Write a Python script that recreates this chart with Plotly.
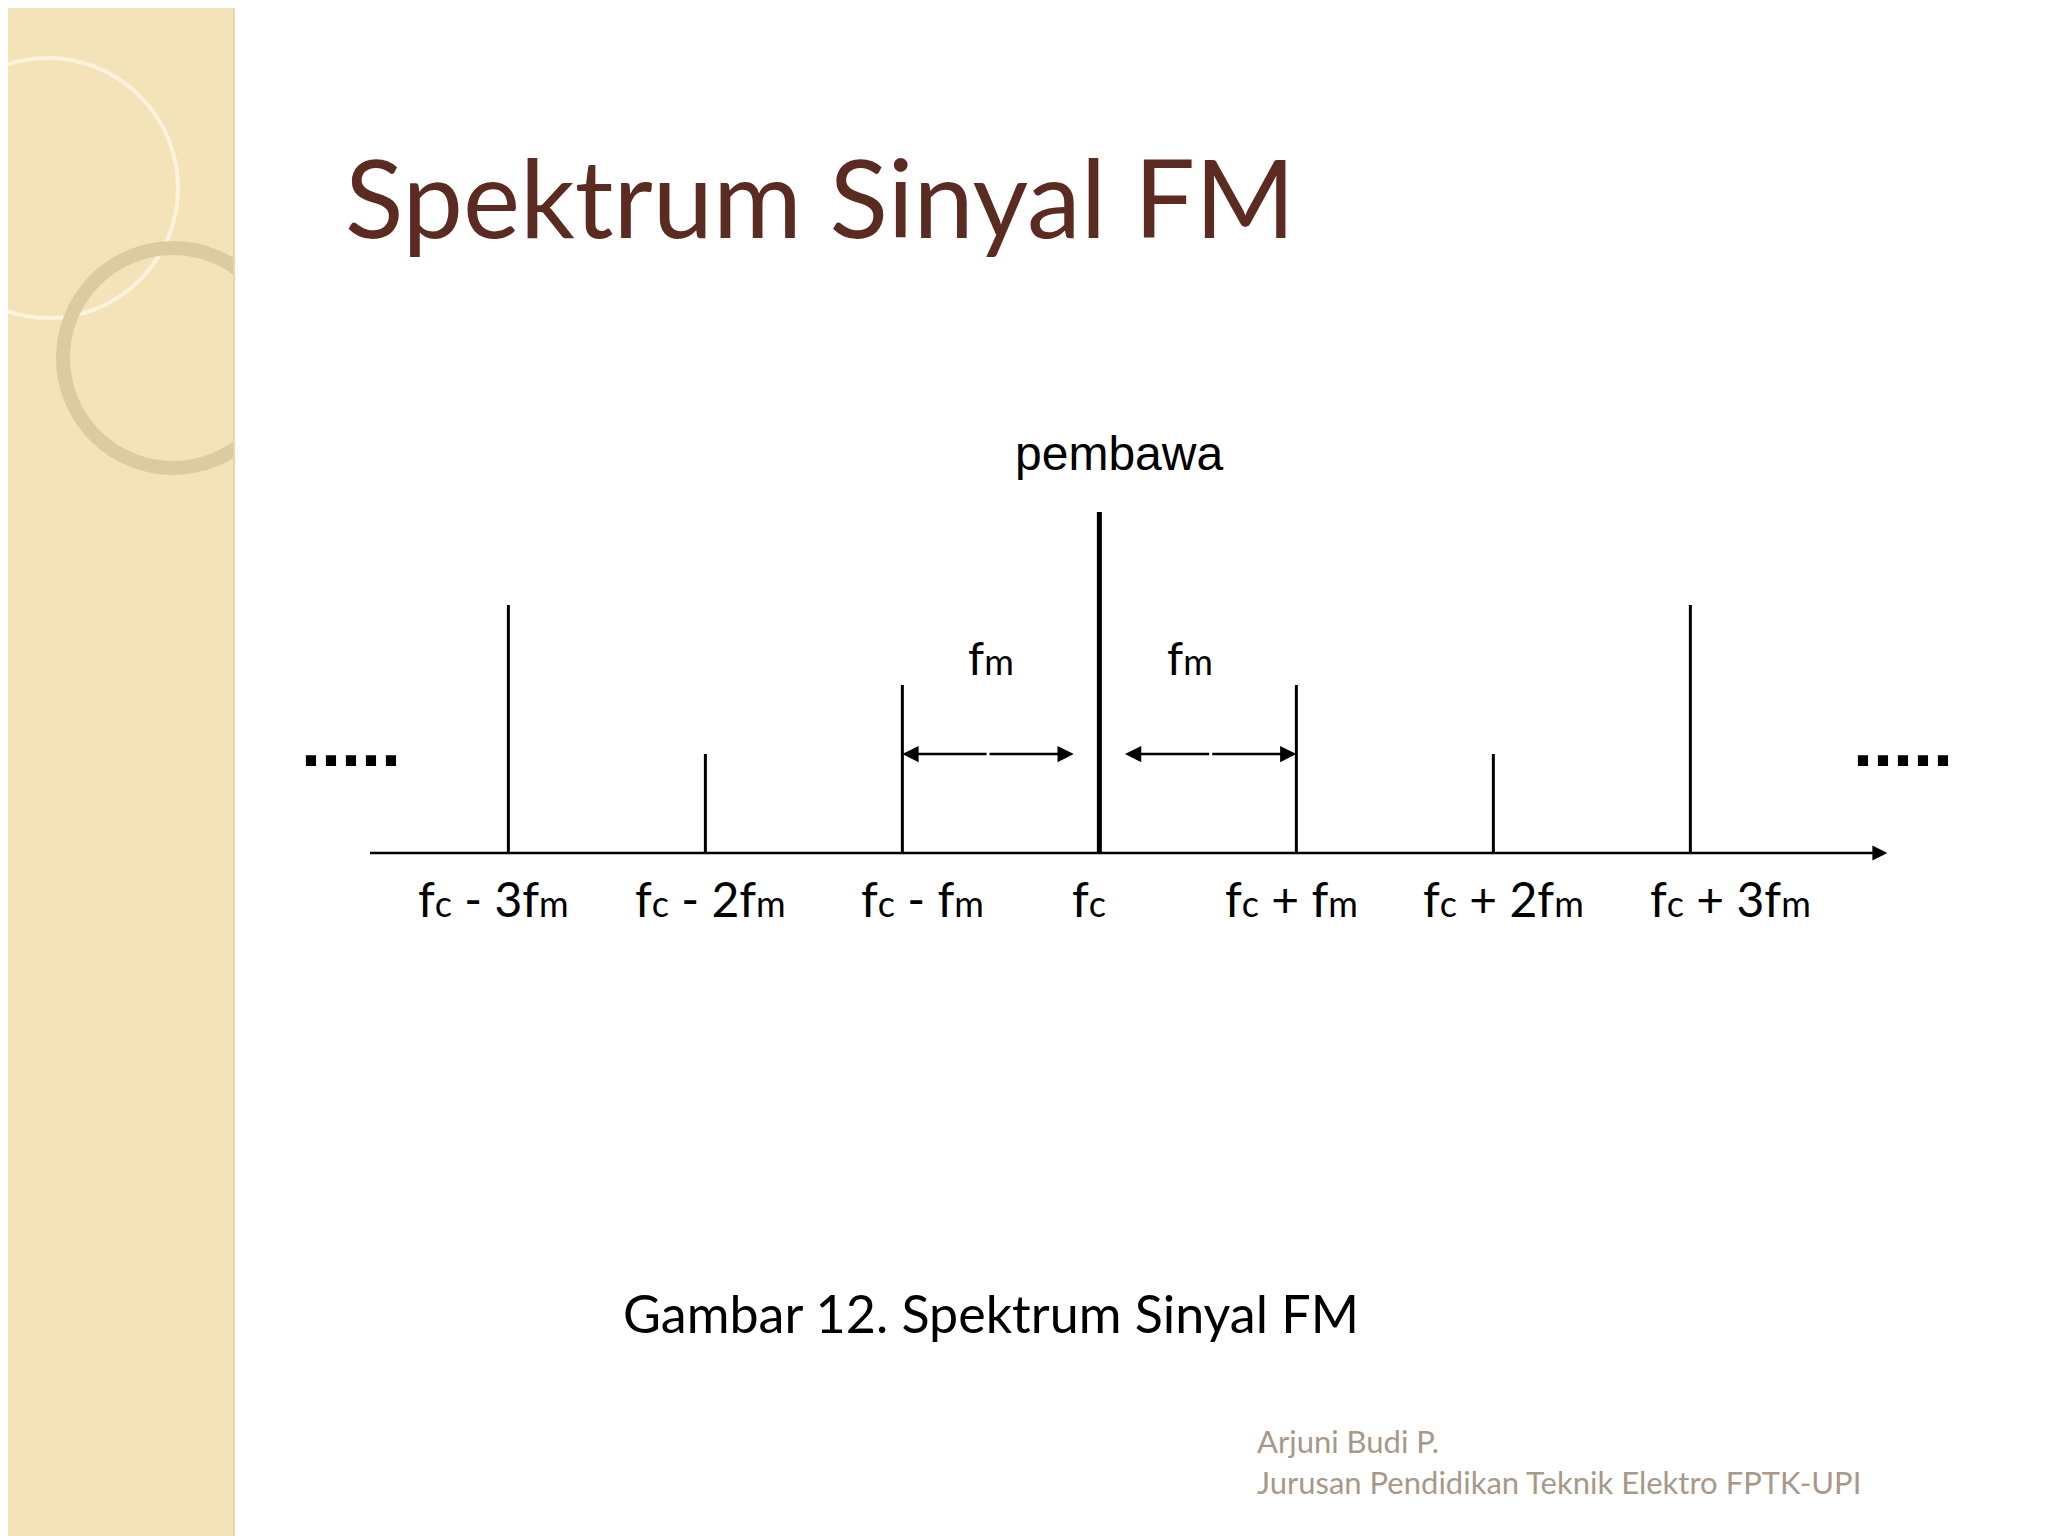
import plotly.graph_objects as go

W, H = 2048, 1536
harmonics = [-3, -2, -1, 0, 1, 2, 3]
amplitudes = [2.48, 0.99, 1.68, 3.41, 1.68, 0.99, 2.48]
tick_labels = ["fc - 3fm", "fc - 2fm", "fc - fm", "fc", "fc + fm", "fc + 2fm", "fc + 3fm"]

def fmt(s):
    return s.replace("fc", "f<span style='font-size:36px'>c</span>").replace("fm", "f<span style='font-size:36px'>m</span>")

fig = go.Figure()
xs, ys = [], []
for n, a in zip(harmonics, amplitudes):
    if n != 0:
        xs += [n, n, None]; ys += [0, a, None]
fig.add_trace(go.Scatter(x=xs, y=ys, mode="lines", line=dict(color="black", width=3), hoverinfo="skip"))
i0 = harmonics.index(0)
fig.add_trace(go.Scatter(x=[0, 0], y=[0, amplitudes[i0]], mode="lines", line=dict(color="black", width=5), hoverinfo="skip"))

shapes = []
shapes.append(dict(type="circle", xref="paper", yref="paper", x0=(40-130)/W, x1=(40+130)/W,
                   y0=1-(180+130)/H, y1=1-(180-130)/H, line=dict(color="#fbf3dc", width=4), layer="below"))
shapes.append(dict(type="circle", xref="paper", yref="paper", x0=(165-110)/W, x1=(165+110)/W,
                   y0=1-(350+110)/H, y1=1-(350-110)/H, line=dict(color="#dccaa0", width=14), layer="below"))
# white mask to the right of the panel to clip the ring
shapes.append(dict(type="rect", xref="paper", yref="paper", x0=226/W, x1=300/W, y0=0, y1=1,
                   fillcolor="white", line=dict(width=0), layer="below"))
shapes.insert(0, dict(type="rect", xref="paper", yref="paper", x0=-0.01, x1=226/W, y0=-0.01, y1=1.01,
                      fillcolor="#f4e3b9", line=dict(width=0), layer="below"))
shapes.append(dict(type="line", xref="paper", yref="paper", x0=226/W, x1=226/W, y0=0, y1=1,
                   line=dict(color="#e8d6a8", width=2)))
fig.update_layout(shapes=shapes)

ann = []
ann.append(dict(x=4.0, y=0, ax=-3.71, ay=0, xref="x", yref="y", axref="x", ayref="y",
                showarrow=True, arrowhead=2, arrowsize=1.2, arrowwidth=2.5, arrowcolor="black", text=""))
for a0, a1 in [(-1, -0.13), (0.13, 1)]:
    for s, e in [(a0, a1), (a1, a0)]:
        ann.append(dict(x=e, y=0.99, ax=(s + e) / 2, ay=0.99, xref="x", yref="y", axref="x", ayref="y",
                        showarrow=True, arrowhead=2, arrowsize=1.3, arrowwidth=2.5, arrowcolor="black", text=""))
for xv in [-0.55, 0.46]:
    ann.append(dict(x=xv, y=1.96, xref="x", yref="y", showarrow=False, text=fmt("fm"),
                    font=dict(family="Lato", size=46, color="black")))
ann.append(dict(x=0.1, y=4.0, xref="x", yref="y", showarrow=False, text="pembawa",
                font=dict(family="Liberation Sans", size=48, color="black")))
for xv in [-3.8, 4.08]:
    ann.append(dict(x=xv, y=1.12, xref="x", yref="y", showarrow=False, text="<b>.....</b>",
                    font=dict(family="Liberation Sans", size=72, color="black")))
offs = [-15, 5, 20, -10, -5, 10, 40]
for n, t, o in zip(harmonics, tick_labels, offs):
    ann.append(dict(x=n, y=-0.45, xref="x", yref="y", showarrow=False, text=fmt(t), xshift=o,
                    font=dict(family="Lato", size=48, color="black")))
ann.append(dict(x=335/W, y=1-188/H, xref="paper", yref="paper", xanchor="left", yanchor="middle",
                showarrow=False, text="Spektrum Sinyal FM",
                font=dict(family="Lato", size=108, color="#5b2a20")))
ann.append(dict(x=983/W, y=1-1338/H, xref="paper", yref="paper", showarrow=False,
                text="Gambar 12. Spektrum Sinyal FM", font=dict(family="Lato", size=52, color="black")))
ann.append(dict(x=1247/W, y=1-1454/H, xref="paper", yref="paper", xanchor="left", showarrow=False,
                text="Arjuni Budi P.", font=dict(family="Lato", size=31, color="#a89888")))
ann.append(dict(x=1247/W, y=1-1495/H, xref="paper", yref="paper", xanchor="left", showarrow=False,
                text="Jurusan Pendidikan Teknik Elektro FPTK-UPI", font=dict(family="Lato", size=31, color="#a89888")))

fig.update_layout(
    annotations=ann, width=W, height=H, showlegend=False,
    margin=dict(l=0, r=0, t=0, b=0), paper_bgcolor="white", plot_bgcolor="rgba(0,0,0,0)",
    xaxis=dict(range=[-5.54, 4.856], visible=False, fixedrange=True),
    yaxis=dict(range=[-6.91, 8.45], visible=False, fixedrange=True),
)
fig.write_html("out.html")
